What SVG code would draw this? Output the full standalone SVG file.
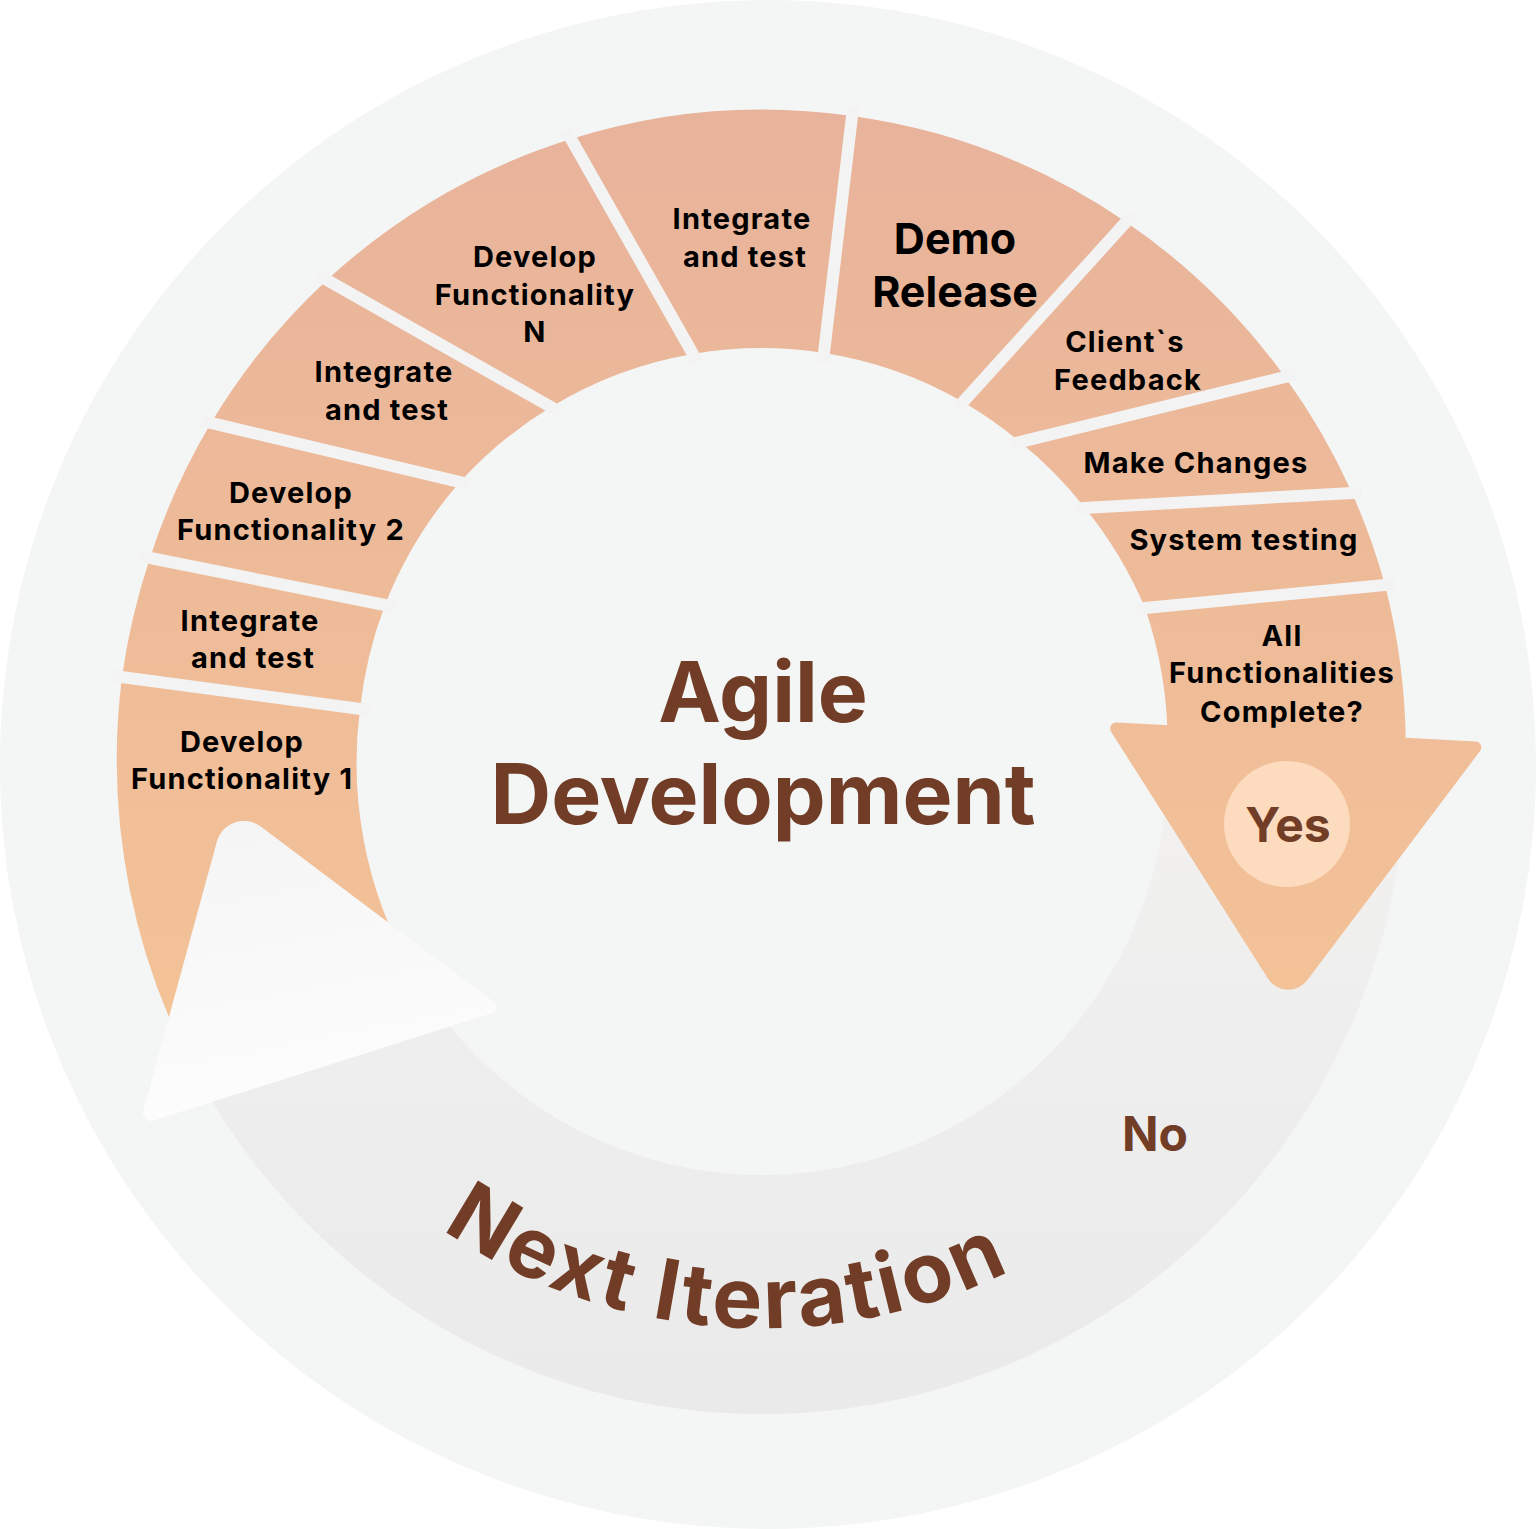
<svg xmlns="http://www.w3.org/2000/svg" width="1536" height="1529" viewBox="0 0 1536 1529">
  <defs>
    <linearGradient id="orange" gradientUnits="userSpaceOnUse" x1="0" y1="110" x2="0" y2="1000">
      <stop offset="0" stop-color="#e8b39b"/>
      <stop offset="1" stop-color="#f3c297"/>
    </linearGradient>
    <linearGradient id="band" gradientUnits="userSpaceOnUse" x1="0" y1="780" x2="0" y2="1415">
      <stop offset="0" stop-color="#f2f1f0"/>
      <stop offset="1" stop-color="#eaeaea"/>
    </linearGradient>
    <linearGradient id="tri" gradientUnits="userSpaceOnUse" x1="245" y1="822" x2="300" y2="1110">
      <stop offset="0" stop-color="#f5f5f5"/>
      <stop offset="1" stop-color="#fdfdfd"/>
    </linearGradient>
    <path id="nextArc" d="M 230.1 955.6 A 566 566 0 0 0 1293.9 955.6"/>
    <style>
      .seg { fill: url(#orange); }
      .lbl { font-family: Inter, "Noto Sans", "Liberation Sans", sans-serif; font-weight: 700; font-size: 29px; letter-spacing: 1.2px; fill: #000000; text-anchor: middle; }
      .big { font-size: 43px; letter-spacing: 0; }
      .brown { font-family: Inter, "Noto Sans", "Liberation Sans", sans-serif; font-weight: 700; fill: #723d26; text-anchor: middle; }
      .sep { stroke: #f3f3f3; stroke-width: 12; stroke-linecap: butt; fill: none; }
    </style>
  </defs>

  <rect width="1536" height="1529" fill="#ffffff"/>
  <ellipse cx="768" cy="764.5" rx="768" ry="764.5" fill="#f4f5f5"/>

  <g id="next-iteration-band">
    <path d="M 1406 762 A 644 652 0 0 1 156.8 985 L 380.5 903.3 A 406 413 0 0 0 1168 762 Z" fill="url(#band)"/>
  </g>

  <g id="node-develop-1">
    <path class="seg" d="M 204.3 1088 A 644 652 0 0 1 122 677 L 360 709 A 406 413 0 0 0 410.4 968.5 Z"/>
    <text class="lbl" x="242" y="752">Develop</text>
    <text class="lbl" x="242" y="789">Functionality 1</text>
  </g>
  <g id="node-integrate-1">
    <path class="seg" d="M 122 677 A 644 652 0 0 1 150 558 L 385 605 A 406 413 0 0 0 360 709 Z"/>
    <text class="lbl" x="250" y="631">Integrate</text>
    <text class="lbl" x="253" y="668">and test</text>
  </g>
  <g id="node-develop-2">
    <path class="seg" d="M 150 558 A 644 652 0 0 1 211 423 L 460 482 A 406 413 0 0 0 385 605 Z"/>
    <text class="lbl" x="291" y="503">Develop</text>
    <text class="lbl" x="291" y="540">Functionality 2</text>
  </g>
  <g id="node-integrate-2">
    <path class="seg" d="M 211 423 A 644 652 0 0 1 327 280 L 551 407 A 406 413 0 0 0 460 482 Z"/>
    <text class="lbl" x="384" y="382">Integrate</text>
    <text class="lbl" x="387" y="420">and test</text>
  </g>
  <g id="node-develop-n">
    <path class="seg" d="M 327 280 A 644 652 0 0 1 571 139 L 693 354 A 406 413 0 0 0 551 407 Z"/>
    <text class="lbl" x="535" y="267">Develop</text>
    <text class="lbl" x="535" y="305">Functionality</text>
    <text class="lbl" x="535" y="342">N</text>
  </g>
  <g id="node-integrate-3">
    <path class="seg" d="M 571 139 A 644 652 0 0 1 852 116 L 824 353 A 406 413 0 0 0 693 354 Z"/>
    <text class="lbl" x="742" y="229">Integrate</text>
    <text class="lbl" x="745" y="267">and test</text>
  </g>
  <g id="node-demo-release">
    <path class="seg" d="M 852 116 A 644 652 0 0 1 1126 222 L 963 402 A 406 413 0 0 0 824 353 Z"/>
    <text class="lbl big" x="955" y="254">Demo</text>
    <text class="lbl big" x="955" y="307">Release</text>
  </g>
  <g id="node-client-feedback">
    <path class="seg" d="M 1126 222 A 644 652 0 0 1 1285 377 L 1020 442 A 406 413 0 0 0 963 402 Z"/>
    <text class="lbl" x="1125" y="352">Client`s</text>
    <text class="lbl" x="1128" y="390">Feedback</text>
  </g>
  <g id="node-make-changes">
    <path class="seg" d="M 1285 377 A 644 652 0 0 1 1352 493 L 1085 508 A 406 413 0 0 0 1020 442 Z"/>
    <text class="lbl" x="1196" y="473">Make Changes</text>
  </g>
  <g id="node-system-testing">
    <path class="seg" d="M 1352 493 A 644 652 0 0 1 1385 585 L 1145 608 A 406 413 0 0 0 1085 508 Z"/>
    <text class="lbl" x="1244" y="550">System testing</text>
  </g>
  <g id="node-all-complete">
    <path class="seg" d="M 1385 585 A 644 652 0 0 1 1405.8 745 L 1167.7 745 A 406 413 0 0 0 1145 608 Z"/>
    <path class="seg" d="M 1116.5 722.5 L 1475.6 741.4 A 6 6 0 0 1 1480.1 751 L 1307.4 980.1 A 24 24 0 0 1 1267.9 978.5 L 1111.1 731.7 A 6 6 0 0 1 1116.5 722.5 Z"/>
    <text class="lbl" x="1282" y="646">All</text>
    <text class="lbl" x="1282" y="683">Functionalities</text>
    <text class="lbl" x="1282" y="722">Complete?</text>
    <circle cx="1287" cy="824" r="63" fill="#fddbbe"/>
    <text class="brown" x="1288" y="842" font-size="48">Yes</text>
  </g>

  <g id="separators">
    <line class="sep" x1="370" y1="710.3" x2="112" y2="675.7"/>
    <line class="sep" x1="394.8" y1="607" x2="140.2" y2="556"/>
    <line class="sep" x1="469.7" y1="484.3" x2="201.3" y2="420.7"/>
    <line class="sep" x1="559.7" y1="411.9" x2="318.3" y2="275.1"/>
    <line class="sep" x1="697.9" y1="362.7" x2="566.1" y2="130.3"/>
    <line class="sep" x1="822.8" y1="362.9" x2="853.2" y2="106.1"/>
    <line class="sep" x1="956.3" y1="409.4" x2="1132.7" y2="214.6"/>
    <line class="sep" x1="1010.3" y1="444.4" x2="1294.7" y2="374.6"/>
    <line class="sep" x1="1075" y1="508.6" x2="1362" y2="492.4"/>
    <line class="sep" x1="1135" y1="609" x2="1395" y2="584"/>
  </g>

  <g id="connectors">
    <path d="M 216.9 841.5 A 28 28 0 0 1 260.7 826.6 L 494.6 1002.4 A 6 6 0 0 1 492.8 1012.9 L 153.4 1120.6 A 8 8 0 0 1 143.3 1110.8 Z" fill="url(#tri)"/>
    <text class="brown" x="1155" y="1151" font-size="48">No</text>
    <text class="brown" font-size="84" letter-spacing="3">
      <textPath href="#nextArc" startOffset="47.1%">Next Iteration</textPath>
    </text>
  </g>

  <g id="title">
    <text class="brown" x="763" y="722" font-size="84">Agile</text>
    <text class="brown" x="763" y="824" font-size="84">Development</text>
  </g>
</svg>
